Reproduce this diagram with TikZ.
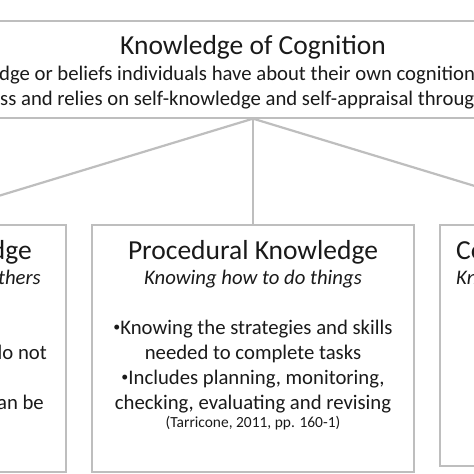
\documentclass[tikz,border=0pt]{standalone}
\usepackage{fontspec}
\setmainfont{Carlito}
\usetikzlibrary{positioning}
\definecolor{frame}{HTML}{BEBEBE}
\definecolor{ink}{HTML}{1A1A1A}
\newcommand{\dotmark}{\raisebox{0.28ex}{\fontsize{14}{14}\selectfont\textbullet}}

\begin{document}
\begin{tikzpicture}[
  x=1bp, y=-1bp,
  panel/.style={draw=frame, line width=1.3bp, inner sep=0pt},
  link/.style={draw=frame, line width=2.2bp},
  head/.style={font=\fontsize{27.6}{32}\selectfont, text=ink, inner sep=0pt},
  sub/.style={font=\fontsize{20.8}{25}\selectfont\itshape, text=ink, inner sep=0pt},
  body/.style={font=\fontsize{20.8}{25}\selectfont, text=ink, inner sep=0pt},
  cite/.style={font=\fontsize{15.5}{18}\selectfont, text=ink, inner sep=0pt}
]
\useasboundingbox (0,0) rectangle (474,474);
\clip (0,0) rectangle (474,474);
\fill[white] (0,0) rectangle (474,474);

% boxes
\node[panel, minimum width=800bp, minimum height=97bp] (cognition) at (253,69.5) {};
\node[panel, minimum width=322bp, minimum height=247bp] (declarative) at (-95,348.5) {};
\node[panel, minimum width=322bp, minimum height=247bp] (procedural) at (253,348.5) {};
\node[panel, minimum width=322bp, minimum height=241bp] (conditional) at (601,345.5) {};

\draw[link] (cognition.south)--(declarative.north);
\draw[link] (cognition.south)--(procedural.north);
\draw[link] (cognition.south)--(conditional.north);

% top box text
\node[head, anchor=base] (cogtitle) at (253,55) {Knowledge of Cognition};
\node[body, anchor=base west] (cogline1) at (-1,81) {dge or beliefs individuals have about their own cognition};
\node[body, anchor=base west] (cogline2) at (0,106) {ss and relies on self-knowledge and self-appraisal throug};

% left box text
\node[head, anchor=base east] (dectitle) at (32,259) {dge};
\node[sub, anchor=base east] (decsub) at (41,284) {thers};
\node[body, anchor=base east] (decline1) at (47,359) {lo not};
\node[body, anchor=base east] (decline2) at (44,409) {an be};

% middle box text
\node[head, anchor=base] (proctitle) at (253,259) {Procedural Knowledge};
\node[sub, anchor=base] (procsub) at (253,284) {Knowing how to do things};
\node[body, anchor=base] (procline1) at (253,334) {\dotmark Knowing the strategies and skills};
\node[body, anchor=base] (procline2) at (253,359) {needed to complete tasks};
\node[body, anchor=base] (procline3) at (253,384) {\dotmark Includes planning, monitoring,};
\node[body, anchor=base] (procline4) at (253,409) {checking, evaluating and revising};
\node[cite, anchor=base] (proccite) at (253,427) {(Tarricone, 2011, pp. 160-1)};

% right box text
\node[head, anchor=base west] (contitle) at (456,259) {Co};
\node[sub, anchor=base west] (consub) at (456,284) {Kn};
\end{tikzpicture}
\end{document}
